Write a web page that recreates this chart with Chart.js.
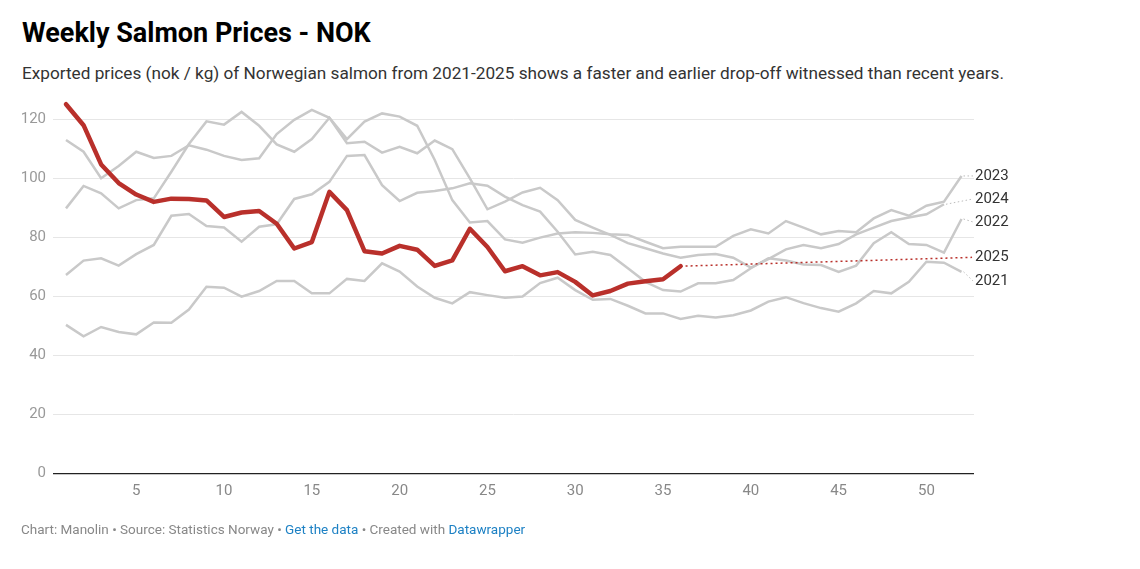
<!DOCTYPE html>
<html>
<head>
<meta charset="utf-8">
<script src="https://cdn.jsdelivr.net/npm/chart.js@4"></script>
<style>
    body { margin: 0; background: #fff; font-family: Roboto, "Noto Sans", sans-serif; }
    #wrap { position: relative; width: 1140px; height: 569px; overflow: hidden; }
    #title { position: absolute; left: 22px; top: 17px; font-size: 27px; font-weight: 700; color: #000; }
    #subtitle { position: absolute; left: 22px; top: 63px; font-size: 17.2px; color: #333; }
    #footer { position: absolute; left: 21px; top: 521px; font-size: 13.5px; color: #888; }
    #footer a { color: #1d81c4; text-decoration: none; }
    canvas { position: absolute; left: 0; top: 0; }
</style>
</head>
<body>
<div id="wrap">
    <div id="title">Weekly Salmon Prices - NOK</div>
    <div id="subtitle">Exported prices (nok / kg) of Norwegian salmon from 2021-2025 shows a faster and earlier drop-off witnessed than recent years.</div>
    <canvas id="chart" width="1140" height="569"></canvas>
    <div id="footer">Chart: Manolin • Source: Statistics Norway • <a>Get the data</a> • Created with <a>Datawrapper</a></div>
</div>
<script>
// week numbers (x axis)
const weeks = [1, 2, 3, 4, 5, 6, 7, 8, 9, 10, 11, 12, 13, 14, 15, 16, 17, 18, 19, 20,
    21, 22, 23, 24, 25, 26, 27, 28, 29, 30, 31, 32, 33, 34, 35, 36, 37, 38, 39, 40,
    41, 42, 43, 44, 45, 46, 47, 48, 49, 50, 51, 52];

// NOK / kg
const prices2021 = [50.3, 46.4, 49.6, 47.9, 47.1, 51.1, 51.0, 55.5, 63.2, 62.9,
    59.9, 61.8, 65.2, 65.2, 61.0, 61.0, 65.9, 65.2, 71.2, 68.4,
    63.3, 59.5, 57.6, 61.4, 60.4, 59.5, 59.9, 64.5, 66.3, 62.1,
    58.8, 59.1, 56.8, 54.2, 54.2, 52.3, 53.4, 52.8, 53.6, 55.2,
    58.2, 59.7, 57.7, 56.0, 54.8, 57.6, 61.8, 61.0, 64.9, 71.7, 71.4, 68.3];
const prices2022 = [67.2, 72.1, 72.9, 70.4, 74.3, 77.4, 87.3, 87.9, 83.8, 83.3,
    78.5, 83.6, 84.4, 93.0, 94.6, 98.8, 107.6, 107.9, 97.7, 92.3,
    95.1, 95.7, 96.6, 98.3, 97.5, 93.8, 90.9, 88.7, 81.9, 74.2,
    75.1, 74.0, 69.5, 64.9, 62.1, 61.6, 64.4, 64.4, 65.5, 69.5,
    72.9, 72.1, 70.8, 70.6, 68.3, 70.4, 78.0, 81.7, 77.7, 77.4, 74.8, 86.2];
const prices2023 = [113.0, 109.0, 100.0, 104.2, 109.0, 106.9, 107.6, 111.2, 109.7, 107.6,
    106.2, 106.8, 115.0, 119.8, 123.2, 120.5, 113.3, 119.2, 122.0, 120.9,
    117.8, 106.2, 92.6, 85.0, 85.5, 79.3, 78.2, 79.9, 81.3, 81.7,
    81.5, 81.0, 80.8, 78.5, 76.3, 76.8, 76.8, 76.8, 80.5, 82.7,
    81.3, 85.5, 83.3, 81.0, 82.1, 81.7, 86.4, 89.2, 87.3, 90.7, 92.1, 100.8];
const prices2024 = [89.8, 97.4, 94.9, 89.8, 92.6, 93.2, 102.2, 111.6, 119.3, 118.2,
    122.5, 117.8, 111.5, 109.0, 113.3, 120.5, 111.9, 112.4, 108.7, 110.7,
    108.5, 112.8, 109.9, 100.0, 89.5, 92.1, 95.2, 96.8, 92.6, 85.9,
    83.3, 80.8, 78.0, 76.3, 74.5, 73.1, 74.0, 74.3, 73.1, 69.7,
    72.6, 75.9, 77.4, 76.3, 77.7, 81.0, 83.3, 85.5, 86.7, 87.8, 91.2, null];
const prices2025 = [125.1, 118.0, 104.7, 98.4, 94.5, 92.0, 93.1, 93.0, 92.5, 86.9,
    88.4, 88.9, 84.6, 76.2, 78.4, 95.4, 89.2, 75.3, 74.5, 77.1,
    75.8, 70.3, 72.2, 82.9, 76.7, 68.5, 70.2, 67.1, 68.2, 64.9,
    60.3, 61.8, 64.3, 65.1, 65.8, 70.2];

// dotted 2025 trend line
const trendWeeks = [36, 52.6];
const trendValues = [70.2, 73.2];

const yTicks = [0, 20, 40, 60, 80, 100, 120];
const xTicks = [5, 10, 15, 20, 25, 30, 35, 40, 45, 50];

// right hand labels, placed at these values on the y axis
const labelYears = ['2023', '2024', '2022', '2025', '2021'];
const labelValues = [100.8, 93.0, 85.2, 73.3, 65.2];

const grey = '#c9c9c9';
const red = '#b9302b';

function toPoints(xs, ys) {
    return ys.map((v, i) => ({ x: xs[i], y: v }));
}

function greyLine(label, values) {
    return {
        label: label,
        data: toPoints(weeks, values),
        borderColor: grey,
        borderWidth: 2.5,
        pointRadius: 0,
        tension: 0,
        order: 2
    };
}

const endLabels = {
    id: 'endLabels',
    afterDatasetsDraw(chart) {
        const ctx = chart.ctx;
        const xs = chart.scales.x;
        const ys = chart.scales.y;
        const labelX = chart.chartArea.right + 1;
        ctx.save();
        chart.data.datasets.forEach(ds => {
            const idx = labelYears.indexOf(ds.label);
            if (idx < 0 || ds.label === '2025') return;
            const pts = ds.data.filter(p => p.y !== null);
            const last = pts[pts.length - 1];
            ctx.beginPath();
            ctx.setLineDash([1.5, 2.5]);
            ctx.strokeStyle = '#bbb';
            ctx.lineWidth = 1;
            ctx.moveTo(xs.getPixelForValue(last.x) + 2, ys.getPixelForValue(last.y));
            ctx.lineTo(labelX - 2, ys.getPixelForValue(labelValues[idx]));
            ctx.stroke();
        });
        ctx.setLineDash([]);
        ctx.fillStyle = '#333';
        ctx.font = '15px Roboto';
        ctx.textBaseline = 'middle';
        ctx.textAlign = 'left';
        labelYears.forEach((t, i) => {
            ctx.fillText(t, labelX, ys.getPixelForValue(labelValues[i]));
        });
        ctx.restore();
    }
};

new Chart(document.getElementById('chart'), {
    type: 'line',
    data: {
        datasets: [
            {
                label: '2025',
                data: toPoints(weeks, prices2025),
                borderColor: red,
                borderWidth: 4.5,
                pointRadius: 0,
                tension: 0,
                borderJoinStyle: 'round',
                borderCapStyle: 'round',
                order: 0
            },
            {
                label: 'trend',
                data: toPoints(trendWeeks, trendValues),
                borderColor: red,
                borderWidth: 1.5,
                borderDash: [2, 3],
                pointRadius: 0,
                tension: 0,
                order: 1
            },
            greyLine('2021', prices2021),
            greyLine('2022', prices2022),
            greyLine('2023', prices2023),
            greyLine('2024', prices2024)
        ]
    },
    options: {
        responsive: false,
        animation: false,
        layout: {
            padding: { top: 95.7, left: 0, right: 166, bottom: 65.7 }
        },
        plugins: {
            legend: { display: false },
            tooltip: { enabled: false }
        },
        scales: {
            x: {
                type: 'linear',
                min: 0.26,
                max: 52.71,
                afterBuildTicks: axis => { axis.ticks = xTicks.map(v => ({ value: v })); },
                afterFit: axis => { axis.height = 30; },
                grid: { display: false, drawTicks: false },
                border: { display: false },
                ticks: {
                    color: '#888',
                    font: { family: 'Roboto', size: 15 },
                    padding: 9,
                    maxRotation: 0
                }
            },
            y: {
                min: 0,
                max: 128,
                afterBuildTicks: axis => { axis.ticks = yTicks.map(v => ({ value: v })); },
                afterFit: axis => { axis.width = 53; },
                grid: {
                    drawTicks: false,
                    color: ctx => ctx.tick.value === 0 ? '#222' : '#e6e6e6',
                    lineWidth: ctx => ctx.tick.value === 0 ? 1.3 : 1
                },
                border: { display: false },
                ticks: {
                    color: '#999',
                    font: { family: 'Roboto', size: 15 },
                    padding: 7
                }
            }
        }
    },
    plugins: [endLabels]
});
</script>
</body>
</html>
